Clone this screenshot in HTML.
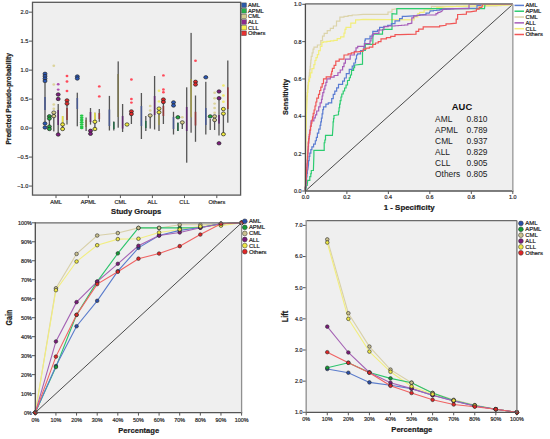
<!DOCTYPE html>
<html><head><meta charset="utf-8"><style>
html,body{margin:0;padding:0;background:#fff;width:550px;height:439px;overflow:hidden}
svg{display:block;font-family:"Liberation Sans", sans-serif}
</style></head><body>
<svg width="550" height="439" viewBox="0 0 550 439">
<rect x="0" y="0" width="550" height="439" fill="#fff"/>
<rect x="32.5" y="2.3" width="208.1" height="192.79999999999998" fill="#efefef" stroke="#585858" stroke-width="1.3"/>
<line x1="29.00" y1="12.16" x2="32.50" y2="12.16" stroke="#555" stroke-width="1.0" />
<text x="28.30" y="14.16" font-size="5.6" text-anchor="end" font-weight="normal" fill="#2a2a2a" stroke="#2a2a2a" stroke-width="0.2" >2.0</text>
<line x1="29.00" y1="41.14" x2="32.50" y2="41.14" stroke="#555" stroke-width="1.0" />
<text x="28.30" y="43.14" font-size="5.6" text-anchor="end" font-weight="normal" fill="#2a2a2a" stroke="#2a2a2a" stroke-width="0.2" >1.5</text>
<line x1="29.00" y1="70.13" x2="32.50" y2="70.13" stroke="#555" stroke-width="1.0" />
<text x="28.30" y="72.13" font-size="5.6" text-anchor="end" font-weight="normal" fill="#2a2a2a" stroke="#2a2a2a" stroke-width="0.2" >1.0</text>
<line x1="29.00" y1="99.11" x2="32.50" y2="99.11" stroke="#555" stroke-width="1.0" />
<text x="28.30" y="101.11" font-size="5.6" text-anchor="end" font-weight="normal" fill="#2a2a2a" stroke="#2a2a2a" stroke-width="0.2" >0.5</text>
<line x1="29.00" y1="128.10" x2="32.50" y2="128.10" stroke="#555" stroke-width="1.0" />
<text x="28.30" y="130.10" font-size="5.6" text-anchor="end" font-weight="normal" fill="#2a2a2a" stroke="#2a2a2a" stroke-width="0.2" >0.0</text>
<line x1="29.00" y1="157.08" x2="32.50" y2="157.08" stroke="#555" stroke-width="1.0" />
<text x="28.30" y="159.08" font-size="5.6" text-anchor="end" font-weight="normal" fill="#2a2a2a" stroke="#2a2a2a" stroke-width="0.2" >−0.5</text>
<line x1="29.00" y1="186.07" x2="32.50" y2="186.07" stroke="#555" stroke-width="1.0" />
<text x="28.30" y="188.07" font-size="5.6" text-anchor="end" font-weight="normal" fill="#2a2a2a" stroke="#2a2a2a" stroke-width="0.2" >−1.0</text>
<line x1="56.00" y1="195.10" x2="56.00" y2="198.10" stroke="#555" stroke-width="1.0" />
<text x="56.00" y="203.80" font-size="5.6" text-anchor="middle" font-weight="normal" fill="#2a2a2a" stroke="#2a2a2a" stroke-width="0.2" >AML</text>
<line x1="88.30" y1="195.10" x2="88.30" y2="198.10" stroke="#555" stroke-width="1.0" />
<text x="88.30" y="203.80" font-size="5.6" text-anchor="middle" font-weight="normal" fill="#2a2a2a" stroke="#2a2a2a" stroke-width="0.2" >APML</text>
<line x1="120.40" y1="195.10" x2="120.40" y2="198.10" stroke="#555" stroke-width="1.0" />
<text x="120.40" y="203.80" font-size="5.6" text-anchor="middle" font-weight="normal" fill="#2a2a2a" stroke="#2a2a2a" stroke-width="0.2" >CML</text>
<line x1="152.40" y1="195.10" x2="152.40" y2="198.10" stroke="#555" stroke-width="1.0" />
<text x="152.40" y="203.80" font-size="5.6" text-anchor="middle" font-weight="normal" fill="#2a2a2a" stroke="#2a2a2a" stroke-width="0.2" >ALL</text>
<line x1="184.50" y1="195.10" x2="184.50" y2="198.10" stroke="#555" stroke-width="1.0" />
<text x="184.50" y="203.80" font-size="5.6" text-anchor="middle" font-weight="normal" fill="#2a2a2a" stroke="#2a2a2a" stroke-width="0.2" >CLL</text>
<line x1="216.80" y1="195.10" x2="216.80" y2="198.10" stroke="#555" stroke-width="1.0" />
<text x="216.80" y="203.80" font-size="5.6" text-anchor="middle" font-weight="normal" fill="#2a2a2a" stroke="#2a2a2a" stroke-width="0.2" >Others</text>
<text x="136.20" y="214.40" font-size="7.6" text-anchor="middle" font-weight="bold" fill="#1a1a1a" stroke="#1a1a1a" stroke-width="0.2" >Study Groups</text>
<text x="0" y="0" font-size="7.4" font-weight="bold" fill="#222" stroke="#222" stroke-width="0.25" text-anchor="middle" textLength="91.5" lengthAdjust="spacingAndGlyphs" transform="translate(11.4,98.8) rotate(-90)">Predicted Pseudo-probability</text>
<rect x="241.6" y="2.90" width="4.8" height="4.6" fill="#2c5aa8" stroke="#333" stroke-width="0.4"/>
<text x="248.00" y="7.10" font-size="5.8" text-anchor="start" font-weight="normal" fill="#1a1a1a" stroke="#1a1a1a" stroke-width="0.2" >AML</text>
<rect x="241.6" y="8.52" width="4.8" height="4.6" fill="#28b04c" stroke="#333" stroke-width="0.4"/>
<text x="248.00" y="12.72" font-size="5.8" text-anchor="start" font-weight="normal" fill="#1a1a1a" stroke="#1a1a1a" stroke-width="0.2" >APML</text>
<rect x="241.6" y="14.14" width="4.8" height="4.6" fill="#d2cb8e" stroke="#333" stroke-width="0.4"/>
<text x="248.00" y="18.34" font-size="5.8" text-anchor="start" font-weight="normal" fill="#1a1a1a" stroke="#1a1a1a" stroke-width="0.2" >CML</text>
<rect x="241.6" y="19.76" width="4.8" height="4.6" fill="#8c2a8c" stroke="#333" stroke-width="0.4"/>
<text x="248.00" y="23.96" font-size="5.8" text-anchor="start" font-weight="normal" fill="#1a1a1a" stroke="#1a1a1a" stroke-width="0.2" >ALL</text>
<rect x="241.6" y="25.38" width="4.8" height="4.6" fill="#f6ef4e" stroke="#333" stroke-width="0.4"/>
<text x="248.00" y="29.58" font-size="5.8" text-anchor="start" font-weight="normal" fill="#1a1a1a" stroke="#1a1a1a" stroke-width="0.2" >CLL</text>
<rect x="241.6" y="31.00" width="4.8" height="4.6" fill="#e83232" stroke="#333" stroke-width="0.4"/>
<text x="248.00" y="35.20" font-size="5.8" text-anchor="start" font-weight="normal" fill="#1a1a1a" stroke="#1a1a1a" stroke-width="0.2" >Others</text>
<rect x="44.35" y="83.00" width="1.3" height="38.80" fill="#555555"/>
<rect x="44.20" y="97.00" width="1.6" height="13.00" fill="#4a5a90"/>
<ellipse cx="45.00" cy="73.80" rx="2.0" ry="1.7" fill="#2a58b8" stroke="#222" stroke-width="0.7"/>
<ellipse cx="45.00" cy="76.20" rx="2.0" ry="1.7" fill="#2a58b8" stroke="#222" stroke-width="0.7"/>
<ellipse cx="45.00" cy="78.60" rx="2.0" ry="1.7" fill="#2a58b8" stroke="#222" stroke-width="0.7"/>
<ellipse cx="45.00" cy="81.00" rx="2.0" ry="1.7" fill="#2a58b8" stroke="#222" stroke-width="0.7"/>
<ellipse cx="45.00" cy="123.50" rx="2.0" ry="1.7" fill="#2a58b8" stroke="#222" stroke-width="0.7"/>
<ellipse cx="45.00" cy="127.50" rx="2.0" ry="1.7" fill="#2a58b8" stroke="#222" stroke-width="0.7"/>
<rect x="48.75" y="117.00" width="1.3" height="11.00" fill="#555555"/>
<ellipse cx="49.40" cy="116.30" rx="2.0" ry="1.7" fill="#20a840" stroke="#222" stroke-width="0.7"/>
<ellipse cx="49.40" cy="118.60" rx="2.0" ry="1.7" fill="#20a840" stroke="#222" stroke-width="0.7"/>
<ellipse cx="49.40" cy="126.60" rx="2.0" ry="1.7" fill="#20a840" stroke="#222" stroke-width="0.7"/>
<ellipse cx="49.40" cy="129.00" rx="2.0" ry="1.7" fill="#20a840" stroke="#222" stroke-width="0.7"/>
<rect x="53.15" y="114.00" width="1.3" height="17.40" fill="#555555"/>
<ellipse cx="53.80" cy="65.80" rx="1.4" ry="1.2" fill="#dcd49c"/>
<ellipse cx="53.80" cy="84.50" rx="1.4" ry="1.2" fill="#dcd49c"/>
<ellipse cx="53.80" cy="104.50" rx="1.4" ry="1.2" fill="#dcd49c"/>
<ellipse cx="53.80" cy="108.70" rx="1.4" ry="1.2" fill="#dcd49c"/>
<ellipse cx="53.80" cy="112.60" rx="2.0" ry="1.7" fill="#d6cc8a" stroke="#222" stroke-width="0.7"/>
<ellipse cx="53.80" cy="116.10" rx="2.0" ry="1.7" fill="#d6cc8a" stroke="#222" stroke-width="0.7"/>
<rect x="57.55" y="104.00" width="1.3" height="30.00" fill="#555555"/>
<rect x="57.40" y="110.00" width="1.6" height="15.00" fill="#5e2a6e"/>
<ellipse cx="58.20" cy="84.20" rx="1.4" ry="1.2" fill="#b050b0"/>
<ellipse cx="58.20" cy="89.60" rx="1.4" ry="1.2" fill="#b050b0"/>
<ellipse cx="58.20" cy="94.50" rx="2.0" ry="1.7" fill="#801e80" stroke="#222" stroke-width="0.7"/>
<ellipse cx="58.20" cy="99.00" rx="2.0" ry="1.7" fill="#801e80" stroke="#222" stroke-width="0.7"/>
<ellipse cx="58.20" cy="134.50" rx="2.0" ry="1.7" fill="#801e80" stroke="#222" stroke-width="0.7"/>
<rect x="61.95" y="116.00" width="1.3" height="14.00" fill="#555555"/>
<rect x="61.80" y="116.00" width="1.6" height="7.60" fill="#e8e040"/>
<ellipse cx="62.60" cy="124.50" rx="2.0" ry="1.7" fill="#f2ec40" stroke="#222" stroke-width="0.7"/>
<ellipse cx="62.60" cy="129.00" rx="2.0" ry="1.7" fill="#f2ec40" stroke="#222" stroke-width="0.7"/>
<rect x="66.35" y="103.00" width="1.3" height="21.50" fill="#555555"/>
<rect x="66.20" y="108.00" width="1.6" height="12.00" fill="#8e3a3a"/>
<ellipse cx="67.00" cy="76.00" rx="1.4" ry="1.2" fill="#ff4a5a"/>
<ellipse cx="67.00" cy="81.50" rx="1.4" ry="1.2" fill="#ff4a5a"/>
<ellipse cx="67.00" cy="91.00" rx="1.4" ry="1.2" fill="#ff4a5a"/>
<ellipse cx="67.00" cy="100.40" rx="2.0" ry="1.7" fill="#e42828" stroke="#222" stroke-width="0.7"/>
<ellipse cx="67.00" cy="103.60" rx="2.0" ry="1.7" fill="#e42828" stroke="#222" stroke-width="0.7"/>
<rect x="76.65" y="92.70" width="1.3" height="33.60" fill="#555555"/>
<rect x="76.50" y="98.00" width="1.6" height="11.00" fill="#4a5a90"/>
<ellipse cx="77.30" cy="76.50" rx="2.0" ry="1.7" fill="#2a58b8" stroke="#222" stroke-width="0.7"/>
<ellipse cx="77.30" cy="78.50" rx="2.0" ry="1.7" fill="#2a58b8" stroke="#222" stroke-width="0.7"/>
<ellipse cx="81.70" cy="115.60" rx="1.8" ry="1.2" fill="#22c845"/>
<ellipse cx="81.70" cy="117.80" rx="1.8" ry="1.2" fill="#22c845"/>
<ellipse cx="81.70" cy="120.00" rx="1.8" ry="1.2" fill="#22c845"/>
<ellipse cx="81.70" cy="122.20" rx="1.8" ry="1.2" fill="#22c845"/>
<ellipse cx="81.70" cy="124.40" rx="1.8" ry="1.2" fill="#22c845"/>
<ellipse cx="81.70" cy="126.60" rx="1.8" ry="1.2" fill="#22c845"/>
<ellipse cx="81.70" cy="128.00" rx="1.8" ry="1.2" fill="#22c845"/>
<rect x="85.45" y="117.50" width="1.3" height="13.50" fill="#555555"/>
<rect x="85.30" y="120.00" width="1.6" height="7.00" fill="#7a7450"/>
<rect x="89.85" y="108.00" width="1.3" height="16.60" fill="#555555"/>
<rect x="89.70" y="112.00" width="1.6" height="10.00" fill="#5e2a6e"/>
<ellipse cx="90.50" cy="130.80" rx="2.0" ry="1.7" fill="#801e80" stroke="#222" stroke-width="0.7"/>
<ellipse cx="90.50" cy="133.80" rx="2.0" ry="1.7" fill="#801e80" stroke="#222" stroke-width="0.7"/>
<rect x="94.25" y="112.70" width="1.3" height="16.30" fill="#555555"/>
<rect x="94.10" y="112.70" width="1.6" height="9.10" fill="#e8e040"/>
<ellipse cx="94.90" cy="121.80" rx="2.0" ry="1.7" fill="#f2ec40" stroke="#222" stroke-width="0.7"/>
<ellipse cx="94.90" cy="129.00" rx="2.0" ry="1.7" fill="#f2ec40" stroke="#222" stroke-width="0.7"/>
<rect x="98.65" y="109.00" width="1.3" height="12.80" fill="#555555"/>
<rect x="98.50" y="113.00" width="1.6" height="6.00" fill="#8e3a3a"/>
<ellipse cx="99.30" cy="86.40" rx="1.4" ry="1.2" fill="#ff4a5a"/>
<ellipse cx="99.30" cy="96.40" rx="1.4" ry="1.2" fill="#ff4a5a"/>
<rect x="108.75" y="95.90" width="1.3" height="34.60" fill="#555555"/>
<rect x="108.60" y="109.50" width="1.6" height="16.50" fill="#4a5a90"/>
<rect x="113.15" y="121.40" width="1.3" height="9.10" fill="#555555"/>
<rect x="113.00" y="122.00" width="1.6" height="7.00" fill="#2a6a4a"/>
<rect x="117.55" y="61.40" width="1.3" height="66.30" fill="#555555"/>
<rect x="117.40" y="74.00" width="1.6" height="43.00" fill="#7a7450"/>
<rect x="121.95" y="104.00" width="1.3" height="28.00" fill="#555555"/>
<rect x="121.80" y="116.00" width="1.6" height="12.60" fill="#5e2a6e"/>
<ellipse cx="127.00" cy="124.50" rx="2.0" ry="1.7" fill="#f2ec40" stroke="#222" stroke-width="0.7"/>
<rect x="130.75" y="114.00" width="1.3" height="10.00" fill="#555555"/>
<ellipse cx="131.40" cy="79.50" rx="1.4" ry="1.2" fill="#ff4a5a"/>
<ellipse cx="131.40" cy="99.00" rx="1.4" ry="1.2" fill="#ff4a5a"/>
<ellipse cx="131.40" cy="102.60" rx="1.4" ry="1.2" fill="#ff4a5a"/>
<ellipse cx="131.40" cy="111.40" rx="2.0" ry="1.7" fill="#e42828" stroke="#222" stroke-width="0.7"/>
<ellipse cx="131.40" cy="114.00" rx="2.0" ry="1.7" fill="#e42828" stroke="#222" stroke-width="0.7"/>
<rect x="140.75" y="93.00" width="1.3" height="46.00" fill="#555555"/>
<rect x="140.60" y="106.00" width="1.6" height="20.00" fill="#4a5a90"/>
<rect x="145.15" y="116.00" width="1.3" height="15.00" fill="#555555"/>
<rect x="145.00" y="121.00" width="1.6" height="7.00" fill="#2a6a4a"/>
<rect x="149.55" y="115.50" width="1.3" height="13.10" fill="#555555"/>
<ellipse cx="150.20" cy="106.00" rx="1.4" ry="1.2" fill="#dcd49c"/>
<ellipse cx="150.20" cy="110.50" rx="1.4" ry="1.2" fill="#dcd49c"/>
<ellipse cx="150.20" cy="115.50" rx="2.0" ry="1.7" fill="#d6cc8a" stroke="#222" stroke-width="0.7"/>
<rect x="153.95" y="76.00" width="1.3" height="53.50" fill="#555555"/>
<rect x="153.80" y="96.00" width="1.6" height="19.00" fill="#5e2a6e"/>
<rect x="158.35" y="112.00" width="1.3" height="19.00" fill="#555555"/>
<rect x="158.20" y="115.00" width="1.6" height="10.00" fill="#a09a50"/>
<ellipse cx="159.00" cy="90.80" rx="1.4" ry="1.2" fill="#f0ea70"/>
<ellipse cx="159.00" cy="101.40" rx="1.4" ry="1.2" fill="#f0ea70"/>
<ellipse cx="159.00" cy="108.60" rx="2.0" ry="1.7" fill="#f2ec40" stroke="#222" stroke-width="0.7"/>
<ellipse cx="159.00" cy="112.30" rx="2.0" ry="1.7" fill="#f2ec40" stroke="#222" stroke-width="0.7"/>
<rect x="162.75" y="102.00" width="1.3" height="22.00" fill="#555555"/>
<rect x="162.60" y="106.00" width="1.6" height="10.00" fill="#8e3a3a"/>
<ellipse cx="163.40" cy="75.40" rx="1.4" ry="1.2" fill="#ff4a5a"/>
<ellipse cx="163.40" cy="89.50" rx="1.4" ry="1.2" fill="#ff4a5a"/>
<ellipse cx="163.40" cy="92.30" rx="1.4" ry="1.2" fill="#ff4a5a"/>
<ellipse cx="163.40" cy="99.50" rx="2.0" ry="1.7" fill="#e42828" stroke="#222" stroke-width="0.7"/>
<ellipse cx="163.40" cy="102.00" rx="2.0" ry="1.7" fill="#e42828" stroke="#222" stroke-width="0.7"/>
<rect x="172.85" y="111.80" width="1.3" height="22.70" fill="#555555"/>
<rect x="172.70" y="117.00" width="1.6" height="12.00" fill="#4a5a90"/>
<ellipse cx="173.50" cy="102.40" rx="2.0" ry="1.7" fill="#2a58b8" stroke="#222" stroke-width="0.7"/>
<ellipse cx="173.50" cy="105.50" rx="2.0" ry="1.7" fill="#2a58b8" stroke="#222" stroke-width="0.7"/>
<rect x="177.25" y="122.70" width="1.3" height="8.30" fill="#555555"/>
<rect x="177.10" y="122.70" width="1.6" height="8.30" fill="#2a6a4a"/>
<ellipse cx="177.90" cy="117.30" rx="2.0" ry="1.7" fill="#20a840" stroke="#222" stroke-width="0.7"/>
<rect x="181.65" y="122.40" width="1.3" height="6.60" fill="#555555"/>
<ellipse cx="182.30" cy="117.30" rx="1.4" ry="1.2" fill="#dcd49c"/>
<ellipse cx="182.30" cy="122.40" rx="2.0" ry="1.7" fill="#d6cc8a" stroke="#222" stroke-width="0.7"/>
<rect x="186.05" y="87.30" width="1.3" height="75.40" fill="#555555"/>
<rect x="185.90" y="107.00" width="1.6" height="24.00" fill="#5e2a6e"/>
<rect x="190.45" y="32.90" width="1.3" height="99.80" fill="#555555"/>
<rect x="190.30" y="79.00" width="1.6" height="38.30" fill="#a09a50"/>
<rect x="194.85" y="95.50" width="1.3" height="46.30" fill="#555555"/>
<rect x="194.70" y="111.80" width="1.6" height="13.70" fill="#8e3a3a"/>
<ellipse cx="195.50" cy="60.70" rx="1.4" ry="1.2" fill="#ff4a5a"/>
<ellipse cx="195.50" cy="81.80" rx="2.0" ry="1.7" fill="#e42828" stroke="#222" stroke-width="0.7"/>
<ellipse cx="195.50" cy="84.50" rx="2.0" ry="1.7" fill="#e42828" stroke="#222" stroke-width="0.7"/>
<rect x="205.15" y="81.80" width="1.3" height="52.70" fill="#555555"/>
<rect x="205.00" y="108.00" width="1.6" height="17.00" fill="#4a5a90"/>
<ellipse cx="205.80" cy="77.30" rx="2.0" ry="1.7" fill="#2a58b8" stroke="#222" stroke-width="0.7"/>
<rect x="209.55" y="119.00" width="1.3" height="11.00" fill="#555555"/>
<ellipse cx="210.20" cy="116.40" rx="2.0" ry="1.7" fill="#20a840" stroke="#222" stroke-width="0.7"/>
<rect x="213.95" y="120.00" width="1.3" height="10.00" fill="#555555"/>
<ellipse cx="214.60" cy="92.70" rx="1.4" ry="1.2" fill="#dcd49c"/>
<ellipse cx="214.60" cy="98.20" rx="1.4" ry="1.2" fill="#dcd49c"/>
<ellipse cx="214.60" cy="103.60" rx="1.4" ry="1.2" fill="#dcd49c"/>
<ellipse cx="214.60" cy="108.00" rx="1.4" ry="1.2" fill="#dcd49c"/>
<ellipse cx="214.60" cy="112.70" rx="1.4" ry="1.2" fill="#dcd49c"/>
<ellipse cx="214.60" cy="116.40" rx="2.0" ry="1.7" fill="#d6cc8a" stroke="#222" stroke-width="0.7"/>
<ellipse cx="214.60" cy="120.00" rx="2.0" ry="1.7" fill="#d6cc8a" stroke="#222" stroke-width="0.7"/>
<rect x="218.35" y="100.00" width="1.3" height="35.50" fill="#555555"/>
<rect x="218.20" y="115.00" width="1.6" height="8.60" fill="#5e2a6e"/>
<ellipse cx="219.00" cy="91.50" rx="2.0" ry="1.7" fill="#801e80" stroke="#222" stroke-width="0.7"/>
<ellipse cx="219.00" cy="98.20" rx="2.0" ry="1.7" fill="#801e80" stroke="#222" stroke-width="0.7"/>
<ellipse cx="219.00" cy="143.30" rx="2.0" ry="1.7" fill="#801e80" stroke="#222" stroke-width="0.7"/>
<rect x="222.75" y="113.60" width="1.3" height="20.00" fill="#555555"/>
<ellipse cx="223.40" cy="85.50" rx="1.4" ry="1.2" fill="#f0ea70"/>
<ellipse cx="223.40" cy="95.50" rx="1.4" ry="1.2" fill="#f0ea70"/>
<ellipse cx="223.40" cy="101.80" rx="1.4" ry="1.2" fill="#f0ea70"/>
<ellipse cx="223.40" cy="109.00" rx="2.0" ry="1.7" fill="#f2ec40" stroke="#222" stroke-width="0.7"/>
<ellipse cx="223.40" cy="113.60" rx="2.0" ry="1.7" fill="#f2ec40" stroke="#222" stroke-width="0.7"/>
<ellipse cx="223.40" cy="134.20" rx="2.0" ry="1.7" fill="#f2ec40" stroke="#222" stroke-width="0.7"/>
<rect x="227.15" y="60.50" width="1.3" height="62.20" fill="#555555"/>
<rect x="227.00" y="87.30" width="1.6" height="21.70" fill="#8e3a3a"/>
<rect x="305.4" y="4.3" width="207.39999999999998" height="186.7" fill="#efefef"/>
<line x1="302.20" y1="191.00" x2="305.40" y2="191.00" stroke="#555" stroke-width="1.0" />
<text x="301.60" y="192.90" font-size="5.4" text-anchor="end" font-weight="normal" fill="#2a2a2a" stroke="#2a2a2a" stroke-width="0.2" >0.0</text>
<line x1="305.40" y1="191.00" x2="305.40" y2="194.00" stroke="#555" stroke-width="1.0" />
<text x="305.40" y="199.20" font-size="5.4" text-anchor="middle" font-weight="normal" fill="#2a2a2a" stroke="#2a2a2a" stroke-width="0.2" >0.0</text>
<line x1="302.20" y1="153.66" x2="305.40" y2="153.66" stroke="#555" stroke-width="1.0" />
<text x="301.60" y="155.56" font-size="5.4" text-anchor="end" font-weight="normal" fill="#2a2a2a" stroke="#2a2a2a" stroke-width="0.2" >0.2</text>
<line x1="346.88" y1="191.00" x2="346.88" y2="194.00" stroke="#555" stroke-width="1.0" />
<text x="346.88" y="199.20" font-size="5.4" text-anchor="middle" font-weight="normal" fill="#2a2a2a" stroke="#2a2a2a" stroke-width="0.2" >0.2</text>
<line x1="302.20" y1="116.32" x2="305.40" y2="116.32" stroke="#555" stroke-width="1.0" />
<text x="301.60" y="118.22" font-size="5.4" text-anchor="end" font-weight="normal" fill="#2a2a2a" stroke="#2a2a2a" stroke-width="0.2" >0.4</text>
<line x1="388.36" y1="191.00" x2="388.36" y2="194.00" stroke="#555" stroke-width="1.0" />
<text x="388.36" y="199.20" font-size="5.4" text-anchor="middle" font-weight="normal" fill="#2a2a2a" stroke="#2a2a2a" stroke-width="0.2" >0.4</text>
<line x1="302.20" y1="78.98" x2="305.40" y2="78.98" stroke="#555" stroke-width="1.0" />
<text x="301.60" y="80.88" font-size="5.4" text-anchor="end" font-weight="normal" fill="#2a2a2a" stroke="#2a2a2a" stroke-width="0.2" >0.6</text>
<line x1="429.84" y1="191.00" x2="429.84" y2="194.00" stroke="#555" stroke-width="1.0" />
<text x="429.84" y="199.20" font-size="5.4" text-anchor="middle" font-weight="normal" fill="#2a2a2a" stroke="#2a2a2a" stroke-width="0.2" >0.6</text>
<line x1="302.20" y1="41.64" x2="305.40" y2="41.64" stroke="#555" stroke-width="1.0" />
<text x="301.60" y="43.54" font-size="5.4" text-anchor="end" font-weight="normal" fill="#2a2a2a" stroke="#2a2a2a" stroke-width="0.2" >0.8</text>
<line x1="471.32" y1="191.00" x2="471.32" y2="194.00" stroke="#555" stroke-width="1.0" />
<text x="471.32" y="199.20" font-size="5.4" text-anchor="middle" font-weight="normal" fill="#2a2a2a" stroke="#2a2a2a" stroke-width="0.2" >0.8</text>
<line x1="302.20" y1="4.30" x2="305.40" y2="4.30" stroke="#555" stroke-width="1.0" />
<text x="301.60" y="6.20" font-size="5.4" text-anchor="end" font-weight="normal" fill="#2a2a2a" stroke="#2a2a2a" stroke-width="0.2" >1.0</text>
<line x1="512.80" y1="191.00" x2="512.80" y2="194.00" stroke="#555" stroke-width="1.0" />
<text x="512.80" y="199.20" font-size="5.4" text-anchor="middle" font-weight="normal" fill="#2a2a2a" stroke="#2a2a2a" stroke-width="0.2" >1.0</text>
<text x="409.20" y="210.20" font-size="7.4" text-anchor="middle" font-weight="bold" fill="#1a1a1a" stroke="#1a1a1a" stroke-width="0.2" textLength="51" lengthAdjust="spacingAndGlyphs">1 - Specificity</text>
<text x="0" y="0" font-size="7.2" font-weight="bold" fill="#1a1a1a" stroke="#1a1a1a" stroke-width="0.2" text-anchor="middle" transform="translate(287.5,97.0) rotate(-90)">Sensitivity</text>
<line x1="305.40" y1="191.00" x2="512.80" y2="4.30" stroke="#4a4a4a" stroke-width="1.0" />
<polyline points="305.40,190.80 305.60,150.00 306.40,102.80 306.40,99.40 306.75,99.40 306.75,96.00 307.10,96.00 307.10,92.60 307.45,92.60 307.45,89.20 307.80,89.20 307.80,85.92 308.20,85.92 308.20,82.64 308.60,82.64 308.60,79.36 309.00,79.36 309.00,76.08 309.40,76.08 309.40,72.80 309.80,72.80 309.80,69.60 310.15,69.60 310.15,66.40 310.50,66.40 310.50,63.20 310.85,63.20 310.85,60.00 311.20,60.00 311.20,56.40 312.13,56.40 312.13,52.80 313.07,52.80 313.07,49.20 314.00,49.20 314.00,47.10 317.40,47.10 317.40,45.00 320.80,45.00 320.80,40.60 322.50,40.60 322.50,36.20 324.20,36.20 324.20,33.45 327.25,33.45 327.25,30.70 330.30,30.70 330.30,28.35 333.40,28.35 333.40,26.00 336.50,26.00 336.50,21.20 339.90,21.20 339.90,17.10 344.00,17.10 344.00,16.40 348.10,16.40 348.10,15.70 352.20,15.70 352.20,15.00 356.30,15.00 363.00,14.30 388.00,14.30 388.00,12.00 392.00,12.00 392.00,9.30 393.50,9.30 396.80,8.60 431.40,8.60 431.40,6.40 497.00,6.00 497.00,5.58 500.95,5.58 500.95,5.15 504.90,5.15 504.90,4.72 508.85,4.72 508.85,4.30 512.80,4.30" fill="none" stroke="#dcd4aa" stroke-width="1.2" stroke-linejoin="miter" />
<polyline points="305.40,190.80 305.70,150.00 306.40,115.00 307.10,100.00 307.10,96.25 307.45,96.25 307.45,92.50 307.80,92.50 307.80,88.75 308.15,88.75 308.15,85.00 308.50,85.00 308.50,81.30 309.50,81.30 309.50,77.60 310.50,77.60 310.50,72.80 311.90,72.80 311.90,68.70 313.90,68.70 313.90,64.60 314.95,64.60 314.95,60.50 316.00,60.50 316.00,57.60 317.35,57.60 317.35,54.70 318.70,54.70 318.70,50.60 320.30,50.60 320.30,46.50 321.90,46.50 321.90,42.40 323.50,42.40 323.50,41.88 326.93,41.88 326.93,41.35 330.35,41.35 330.35,40.82 333.77,40.82 333.77,40.30 337.20,40.30 337.20,38.60 340.60,38.60 340.60,36.90 344.00,36.90 344.00,33.15 345.00,33.15 345.00,29.40 346.00,29.40 346.00,27.30 350.80,27.30 350.80,23.20 355.60,23.20 355.60,19.80 359.00,19.80 363.00,19.30 414.10,19.80 414.10,16.80 417.80,16.80 417.80,13.70 419.60,13.70 419.60,12.30 424.10,12.30 424.10,10.00 426.00,10.00 430.50,9.60 430.50,8.97 433.67,8.97 433.67,8.33 436.83,8.33 436.83,7.70 440.00,7.70 445.50,6.80 445.50,6.70 449.16,6.70 449.16,6.60 452.82,6.60 452.82,6.50 456.48,6.50 456.48,6.40 460.14,6.40 460.14,6.30 463.81,6.30 463.81,6.20 467.47,6.20 467.47,6.10 471.13,6.10 471.13,6.00 474.79,6.00 474.79,5.90 478.45,5.90 478.45,5.80 482.11,5.80 482.11,5.70 485.77,5.70 485.77,5.60 489.43,5.60 489.43,5.50 493.09,5.50 493.09,5.40 496.76,5.40 496.76,5.30 500.42,5.30 500.42,5.20 504.08,5.20 504.08,5.10 507.74,5.10 507.74,5.00 511.40,5.00 512.80,4.30" fill="none" stroke="#f2ee7a" stroke-width="1.2" stroke-linejoin="miter" />
<polyline points="305.40,190.80 305.40,188.10 306.30,188.10 306.30,185.40 307.20,185.40 307.70,180.30 309.80,180.30 309.80,176.70 310.80,176.70 310.80,173.60 311.30,173.60 311.30,170.50 311.80,170.50 313.40,170.50 313.90,155.10 313.90,150.30 315.30,150.30 324.20,150.30 324.20,145.50 324.20,142.75 324.85,142.75 324.85,140.00 325.50,140.00 325.50,135.30 326.90,135.30 332.40,135.30 333.10,125.00 333.10,121.83 333.53,121.83 333.53,118.67 333.97,118.67 333.97,115.50 334.40,115.50 338.50,114.80 338.50,111.27 339.07,111.27 339.07,107.73 339.63,107.73 339.63,104.20 340.20,104.20 340.20,100.60 341.00,100.60 341.00,97.00 341.80,97.00 341.80,94.00 343.20,94.00 343.20,91.00 344.60,91.00 344.60,88.00 346.05,88.00 346.05,85.00 347.50,85.00 347.50,80.50 349.30,80.50 349.30,77.75 350.40,77.75 350.40,75.00 351.50,75.00 351.50,70.50 353.60,70.50 353.60,67.75 354.60,67.75 354.60,65.00 355.60,65.00 362.50,64.20 362.50,54.60 362.50,50.50 365.30,50.50 365.30,44.40 372.80,44.40 373.00,34.20 382.50,34.20 382.50,29.40 392.00,29.40 392.00,13.70 396.80,14.10 396.80,8.60 484.50,8.60 485.00,4.30 512.80,4.30" fill="none" stroke="#2ccc70" stroke-width="1.2" stroke-linejoin="miter" />
<polyline points="305.40,190.80 305.40,187.33 305.80,187.33 305.80,183.87 306.20,183.87 306.20,180.40 306.60,180.40 306.60,176.93 307.00,176.93 307.00,173.47 307.40,173.47 307.40,170.00 307.80,170.00 308.50,164.70 308.50,160.60 309.15,160.60 309.15,156.50 309.80,156.50 309.80,153.05 310.85,153.05 310.85,149.60 311.90,149.60 311.90,146.90 313.60,146.90 313.60,144.20 315.30,144.20 315.30,140.75 316.35,140.75 316.35,137.30 317.40,137.30 317.40,133.20 318.75,133.20 318.75,129.10 320.10,129.10 320.10,125.47 320.77,125.47 320.77,121.83 321.43,121.83 321.43,118.20 322.10,118.20 322.10,113.95 322.80,113.95 322.80,109.70 323.50,109.70 323.50,106.95 325.90,106.95 325.90,104.20 328.30,104.20 328.30,102.80 331.70,102.80 331.70,98.60 333.25,98.60 333.25,94.40 334.80,94.40 334.80,91.10 336.65,91.10 336.65,87.80 338.50,87.80 338.50,84.30 342.60,84.30 342.60,81.15 344.45,81.15 344.45,78.00 346.30,78.00 346.30,73.70 349.25,73.70 349.25,69.40 352.20,69.40 352.20,66.20 353.85,66.20 353.85,63.00 355.50,63.00 355.50,59.00 356.50,59.00 356.50,55.00 357.50,55.00 357.50,53.90 360.50,53.90 360.50,50.50 363.90,50.50 363.90,47.10 364.37,47.10 364.37,43.70 364.83,43.70 364.83,40.30 365.30,40.30 365.30,38.90 370.00,38.90 370.00,36.10 372.80,36.10 372.80,31.40 377.50,31.40 377.50,30.00 379.60,30.00 379.60,27.30 384.00,27.30 384.00,26.30 387.70,26.30 387.70,25.30 391.40,25.30 391.40,23.70 395.00,23.70 395.00,20.90 399.60,20.90 399.60,18.70 402.30,18.70 402.30,16.40 405.50,16.40 416.90,15.70 416.90,15.33 419.93,15.33 419.93,14.97 422.97,14.97 422.97,14.60 426.00,14.60 426.00,13.20 429.20,13.20 430.10,11.40 430.10,10.95 433.38,10.95 433.38,10.50 436.65,10.50 436.65,10.05 439.93,10.05 439.93,9.60 443.20,9.60 443.20,9.35 446.65,9.35 446.65,9.10 450.10,9.10 450.10,8.85 453.55,8.85 453.55,8.60 457.00,8.60 477.00,8.20 477.00,5.50 480.90,5.50 481.00,4.30 512.80,4.30" fill="none" stroke="#5a7cd2" stroke-width="1.2" stroke-linejoin="miter" />
<polyline points="305.40,190.80 305.40,186.85 305.67,186.85 305.67,182.90 305.95,182.90 305.95,178.95 306.23,178.95 306.23,175.00 306.50,175.00 306.50,171.25 306.75,171.25 306.75,167.50 307.00,167.50 307.00,163.75 307.25,163.75 307.25,160.00 307.50,160.00 307.50,156.67 307.75,156.67 307.75,153.33 308.00,153.33 308.00,150.00 308.25,150.00 308.25,146.67 308.50,146.67 308.50,143.33 308.75,143.33 308.75,140.00 309.00,140.00 309.00,136.50 309.50,136.50 309.50,133.00 310.00,133.00 310.00,129.50 310.50,129.50 310.50,126.00 311.00,126.00 311.00,120.90 313.90,120.90 313.90,117.85 315.30,117.85 315.30,114.80 316.70,114.80 316.70,111.00 318.70,111.00 318.70,106.90 320.10,106.90 320.10,102.80 321.50,102.80 321.50,99.40 322.15,99.40 322.15,96.00 322.80,96.00 322.80,92.60 323.85,92.60 323.85,89.20 324.90,89.20 324.90,85.75 325.90,85.75 325.90,82.30 326.90,82.30 326.90,78.90 330.30,78.90 330.30,77.20 334.10,77.20 334.10,75.50 337.90,75.50 337.90,72.75 340.25,72.75 340.25,70.00 342.60,70.00 342.60,66.60 344.00,66.60 344.00,63.20 345.40,63.20 345.40,59.10 350.20,59.10 350.20,55.00 354.30,55.00 354.30,51.40 356.00,51.40 356.00,47.80 357.70,47.80 357.70,46.40 360.50,46.40 364.60,46.40 364.60,43.70 370.00,43.70 370.00,40.95 371.05,40.95 371.05,38.20 372.10,38.20 372.10,34.80 373.50,34.80 373.50,33.40 378.90,33.40 378.90,30.00 383.70,30.00 384.00,27.30 384.00,26.65 388.05,26.65 388.05,26.00 392.10,26.00 395.00,26.00 395.00,25.75 398.20,25.75 398.20,25.50 401.40,25.50 401.40,25.25 404.60,25.25 404.60,25.00 407.80,25.00 407.80,23.70 409.60,23.70 411.80,23.20 411.80,17.80 413.70,17.80 413.70,15.90 416.40,15.90 419.60,15.00 436.00,15.00 436.00,13.70 437.80,13.70 437.80,12.30 439.60,12.30 441.90,11.40 442.70,9.10 457.30,8.60 469.00,8.60 469.00,4.50 471.40,4.50 512.80,4.30" fill="none" stroke="#a65cb8" stroke-width="1.2" stroke-linejoin="miter" />
<polyline points="305.40,190.80 305.40,187.33 305.63,187.33 305.63,183.87 305.87,183.87 305.87,180.40 306.10,180.40 306.10,176.93 306.33,176.93 306.33,173.47 306.57,173.47 306.57,170.00 306.80,170.00 307.40,161.90 308.20,145.50 308.20,142.10 308.70,142.10 308.70,138.70 309.20,138.70 309.20,134.60 309.87,134.60 309.87,130.50 310.53,130.50 310.53,126.40 311.20,126.40 311.20,123.20 311.87,123.20 311.87,120.00 312.53,120.00 312.53,116.80 313.20,116.80 313.20,113.40 314.10,113.40 314.10,110.00 315.00,110.00 315.00,106.00 315.90,106.00 315.90,102.00 316.80,102.00 316.80,98.20 318.50,98.20 318.50,94.35 319.65,94.35 319.65,90.50 320.80,90.50 320.80,87.10 322.15,87.10 322.15,83.70 323.50,83.70 323.50,78.90 326.20,78.90 326.20,76.90 331.00,76.90 331.00,74.15 331.70,74.15 331.70,71.40 332.40,71.40 332.40,68.35 334.10,68.35 334.10,65.30 335.80,65.30 335.80,61.20 339.20,61.20 339.20,59.10 344.00,59.10 344.00,55.00 348.10,55.00 348.10,53.97 351.30,53.97 351.30,52.93 354.50,52.93 354.50,51.90 357.70,51.90 363.20,51.20 363.20,49.10 365.90,49.10 365.90,48.10 369.35,48.10 369.35,47.10 372.80,47.10 372.80,44.40 375.50,44.40 375.50,43.00 378.25,43.00 378.25,41.60 381.00,41.60 381.00,38.90 386.40,38.90 386.40,37.65 390.70,37.65 390.70,36.40 395.00,36.40 395.00,34.60 400.00,34.60 416.00,34.10 416.00,31.40 418.70,31.40 418.70,29.10 423.20,29.10 423.20,26.90 425.50,26.90 439.60,26.90 439.60,25.80 441.00,25.80 446.00,25.30 446.00,23.90 449.40,23.90 456.20,23.20 456.20,19.10 457.60,19.10 457.60,14.50 460.00,14.50 466.40,14.10 466.40,11.80 470.00,11.80 476.40,10.90 476.40,9.10 479.10,9.10 479.10,7.30 481.80,7.30 482.70,4.50 512.80,4.30" fill="none" stroke="#f05656" stroke-width="1.2" stroke-linejoin="miter" />
<line x1="305.40" y1="3.90" x2="512.80" y2="3.90" stroke="#8a8a8a" stroke-width="1.8" />
<line x1="305.40" y1="3.70" x2="305.40" y2="191.00" stroke="#4a4a4a" stroke-width="1.3" />
<line x1="305.40" y1="191.00" x2="513.40" y2="191.00" stroke="#555" stroke-width="1.3" />
<line x1="512.80" y1="4.30" x2="512.80" y2="191.00" stroke="#a8a8a8" stroke-width="1.6" />
<line x1="514.50" y1="5.40" x2="524.00" y2="5.40" stroke="#5a7cd2" stroke-width="1.5" />
<text x="525.50" y="7.30" font-size="5.8" text-anchor="start" font-weight="normal" fill="#1a1a1a" stroke="#1a1a1a" stroke-width="0.2" >AML</text>
<line x1="514.50" y1="11.22" x2="524.00" y2="11.22" stroke="#2ccc70" stroke-width="1.5" />
<text x="525.50" y="13.12" font-size="5.8" text-anchor="start" font-weight="normal" fill="#1a1a1a" stroke="#1a1a1a" stroke-width="0.2" >APML</text>
<line x1="514.50" y1="17.04" x2="524.00" y2="17.04" stroke="#dcd4aa" stroke-width="1.5" />
<text x="525.50" y="18.94" font-size="5.8" text-anchor="start" font-weight="normal" fill="#1a1a1a" stroke="#1a1a1a" stroke-width="0.2" >CML</text>
<line x1="514.50" y1="22.86" x2="524.00" y2="22.86" stroke="#a65cb8" stroke-width="1.5" />
<text x="525.50" y="24.76" font-size="5.8" text-anchor="start" font-weight="normal" fill="#1a1a1a" stroke="#1a1a1a" stroke-width="0.2" >ALL</text>
<line x1="514.50" y1="28.68" x2="524.00" y2="28.68" stroke="#f2ee7a" stroke-width="1.5" />
<text x="525.50" y="30.58" font-size="5.8" text-anchor="start" font-weight="normal" fill="#1a1a1a" stroke="#1a1a1a" stroke-width="0.2" >CLL</text>
<line x1="514.50" y1="34.50" x2="524.00" y2="34.50" stroke="#f05656" stroke-width="1.5" />
<text x="525.50" y="36.40" font-size="5.8" text-anchor="start" font-weight="normal" fill="#1a1a1a" stroke="#1a1a1a" stroke-width="0.2" >Others</text>
<text x="462.00" y="110.30" font-size="9.4" text-anchor="middle" font-weight="bold" fill="#111" >AUC</text>
<text x="435.10" y="121.85" font-size="8.4" text-anchor="start" font-weight="normal" fill="#222" >AML</text>
<text x="466.50" y="121.85" font-size="8.4" text-anchor="start" font-weight="normal" fill="#222" >0.810</text>
<text x="435.10" y="132.81" font-size="8.4" text-anchor="start" font-weight="normal" fill="#222" >APML</text>
<text x="466.50" y="132.81" font-size="8.4" text-anchor="start" font-weight="normal" fill="#222" >0.789</text>
<text x="435.10" y="143.77" font-size="8.4" text-anchor="start" font-weight="normal" fill="#222" >CML</text>
<text x="466.50" y="143.77" font-size="8.4" text-anchor="start" font-weight="normal" fill="#222" >0.937</text>
<text x="435.10" y="154.73" font-size="8.4" text-anchor="start" font-weight="normal" fill="#222" >ALL</text>
<text x="466.50" y="154.73" font-size="8.4" text-anchor="start" font-weight="normal" fill="#222" >0.829</text>
<text x="435.10" y="165.69" font-size="8.4" text-anchor="start" font-weight="normal" fill="#222" >CLL</text>
<text x="466.50" y="165.69" font-size="8.4" text-anchor="start" font-weight="normal" fill="#222" >0.905</text>
<text x="435.10" y="176.65" font-size="8.4" text-anchor="start" font-weight="normal" fill="#222" >Others</text>
<text x="466.50" y="176.65" font-size="8.4" text-anchor="start" font-weight="normal" fill="#222" >0.805</text>
<rect x="35.3" y="222.8" width="206.3" height="189.8" fill="#efefef"/>
<line x1="32.00" y1="412.60" x2="35.30" y2="412.60" stroke="#555" stroke-width="1.0" />
<text x="31.80" y="414.50" font-size="5.4" text-anchor="end" font-weight="normal" fill="#2a2a2a" stroke="#2a2a2a" stroke-width="0.2" >0%</text>
<line x1="35.30" y1="412.60" x2="35.30" y2="415.60" stroke="#555" stroke-width="1.0" />
<text x="35.30" y="421.60" font-size="5.4" text-anchor="middle" font-weight="normal" fill="#2a2a2a" stroke="#2a2a2a" stroke-width="0.2" >0%</text>
<line x1="32.00" y1="393.62" x2="35.30" y2="393.62" stroke="#555" stroke-width="1.0" />
<text x="31.80" y="395.52" font-size="5.4" text-anchor="end" font-weight="normal" fill="#2a2a2a" stroke="#2a2a2a" stroke-width="0.2" >10%</text>
<line x1="55.93" y1="412.60" x2="55.93" y2="415.60" stroke="#555" stroke-width="1.0" />
<text x="55.93" y="421.60" font-size="5.4" text-anchor="middle" font-weight="normal" fill="#2a2a2a" stroke="#2a2a2a" stroke-width="0.2" >10%</text>
<line x1="32.00" y1="374.64" x2="35.30" y2="374.64" stroke="#555" stroke-width="1.0" />
<text x="31.80" y="376.54" font-size="5.4" text-anchor="end" font-weight="normal" fill="#2a2a2a" stroke="#2a2a2a" stroke-width="0.2" >20%</text>
<line x1="76.56" y1="412.60" x2="76.56" y2="415.60" stroke="#555" stroke-width="1.0" />
<text x="76.56" y="421.60" font-size="5.4" text-anchor="middle" font-weight="normal" fill="#2a2a2a" stroke="#2a2a2a" stroke-width="0.2" >20%</text>
<line x1="32.00" y1="355.66" x2="35.30" y2="355.66" stroke="#555" stroke-width="1.0" />
<text x="31.80" y="357.56" font-size="5.4" text-anchor="end" font-weight="normal" fill="#2a2a2a" stroke="#2a2a2a" stroke-width="0.2" >30%</text>
<line x1="97.19" y1="412.60" x2="97.19" y2="415.60" stroke="#555" stroke-width="1.0" />
<text x="97.19" y="421.60" font-size="5.4" text-anchor="middle" font-weight="normal" fill="#2a2a2a" stroke="#2a2a2a" stroke-width="0.2" >30%</text>
<line x1="32.00" y1="336.68" x2="35.30" y2="336.68" stroke="#555" stroke-width="1.0" />
<text x="31.80" y="338.58" font-size="5.4" text-anchor="end" font-weight="normal" fill="#2a2a2a" stroke="#2a2a2a" stroke-width="0.2" >40%</text>
<line x1="117.82" y1="412.60" x2="117.82" y2="415.60" stroke="#555" stroke-width="1.0" />
<text x="117.82" y="421.60" font-size="5.4" text-anchor="middle" font-weight="normal" fill="#2a2a2a" stroke="#2a2a2a" stroke-width="0.2" >40%</text>
<line x1="32.00" y1="317.70" x2="35.30" y2="317.70" stroke="#555" stroke-width="1.0" />
<text x="31.80" y="319.60" font-size="5.4" text-anchor="end" font-weight="normal" fill="#2a2a2a" stroke="#2a2a2a" stroke-width="0.2" >50%</text>
<line x1="138.45" y1="412.60" x2="138.45" y2="415.60" stroke="#555" stroke-width="1.0" />
<text x="138.45" y="421.60" font-size="5.4" text-anchor="middle" font-weight="normal" fill="#2a2a2a" stroke="#2a2a2a" stroke-width="0.2" >50%</text>
<line x1="32.00" y1="298.72" x2="35.30" y2="298.72" stroke="#555" stroke-width="1.0" />
<text x="31.80" y="300.62" font-size="5.4" text-anchor="end" font-weight="normal" fill="#2a2a2a" stroke="#2a2a2a" stroke-width="0.2" >60%</text>
<line x1="159.08" y1="412.60" x2="159.08" y2="415.60" stroke="#555" stroke-width="1.0" />
<text x="159.08" y="421.60" font-size="5.4" text-anchor="middle" font-weight="normal" fill="#2a2a2a" stroke="#2a2a2a" stroke-width="0.2" >60%</text>
<line x1="32.00" y1="279.74" x2="35.30" y2="279.74" stroke="#555" stroke-width="1.0" />
<text x="31.80" y="281.64" font-size="5.4" text-anchor="end" font-weight="normal" fill="#2a2a2a" stroke="#2a2a2a" stroke-width="0.2" >70%</text>
<line x1="179.71" y1="412.60" x2="179.71" y2="415.60" stroke="#555" stroke-width="1.0" />
<text x="179.71" y="421.60" font-size="5.4" text-anchor="middle" font-weight="normal" fill="#2a2a2a" stroke="#2a2a2a" stroke-width="0.2" >70%</text>
<line x1="32.00" y1="260.76" x2="35.30" y2="260.76" stroke="#555" stroke-width="1.0" />
<text x="31.80" y="262.66" font-size="5.4" text-anchor="end" font-weight="normal" fill="#2a2a2a" stroke="#2a2a2a" stroke-width="0.2" >80%</text>
<line x1="200.34" y1="412.60" x2="200.34" y2="415.60" stroke="#555" stroke-width="1.0" />
<text x="200.34" y="421.60" font-size="5.4" text-anchor="middle" font-weight="normal" fill="#2a2a2a" stroke="#2a2a2a" stroke-width="0.2" >80%</text>
<line x1="32.00" y1="241.78" x2="35.30" y2="241.78" stroke="#555" stroke-width="1.0" />
<text x="31.80" y="243.68" font-size="5.4" text-anchor="end" font-weight="normal" fill="#2a2a2a" stroke="#2a2a2a" stroke-width="0.2" >90%</text>
<line x1="220.97" y1="412.60" x2="220.97" y2="415.60" stroke="#555" stroke-width="1.0" />
<text x="220.97" y="421.60" font-size="5.4" text-anchor="middle" font-weight="normal" fill="#2a2a2a" stroke="#2a2a2a" stroke-width="0.2" >90%</text>
<line x1="32.00" y1="222.80" x2="35.30" y2="222.80" stroke="#555" stroke-width="1.0" />
<text x="31.80" y="224.70" font-size="5.4" text-anchor="end" font-weight="normal" fill="#2a2a2a" stroke="#2a2a2a" stroke-width="0.2" >100%</text>
<line x1="241.60" y1="412.60" x2="241.60" y2="415.60" stroke="#555" stroke-width="1.0" />
<text x="241.60" y="421.60" font-size="5.4" text-anchor="middle" font-weight="normal" fill="#2a2a2a" stroke="#2a2a2a" stroke-width="0.2" >100%</text>
<text x="138.70" y="432.50" font-size="7.6" text-anchor="middle" font-weight="bold" fill="#1a1a1a" stroke="#1a1a1a" stroke-width="0.2" >Percentage</text>
<text x="0" y="0" font-size="8.4" font-weight="bold" fill="#1a1a1a" stroke="#1a1a1a" stroke-width="0.2" text-anchor="middle" textLength="15.6" lengthAdjust="spacingAndGlyphs" transform="translate(11.6,317.6) rotate(-90)">Gain</text>
<line x1="35.30" y1="412.60" x2="241.60" y2="222.80" stroke="#4a4a4a" stroke-width="1.0" />
<polyline points="35.30,412.60 55.93,288.28 76.56,253.93 97.19,235.52 117.82,233.05 138.45,227.92 159.08,227.92 179.71,224.70 200.34,224.70 220.97,224.13 241.60,222.80" fill="none" stroke="#d8d0a8" stroke-width="1.1" stroke-linejoin="miter" />
<polyline points="35.30,412.60 55.93,290.18 76.56,261.52 97.19,245.20 117.82,239.12 138.45,238.74 159.08,232.48 179.71,229.44 200.34,226.41 220.97,225.65 241.60,222.80" fill="none" stroke="#f2ee80" stroke-width="1.1" stroke-linejoin="miter" />
<polyline points="35.30,412.60 55.93,367.05 76.56,314.85 97.19,281.64 117.82,253.36 138.45,227.92 159.08,227.92 179.71,227.92 200.34,227.55 220.97,223.75 241.60,222.80" fill="none" stroke="#2cc46c" stroke-width="1.1" stroke-linejoin="miter" />
<polyline points="35.30,412.60 55.93,366.10 76.56,326.24 97.19,300.81 117.82,271.20 138.45,247.85 159.08,235.52 179.71,230.39 200.34,227.55 220.97,223.75 241.60,222.80" fill="none" stroke="#5a7ccc" stroke-width="1.1" stroke-linejoin="miter" />
<polyline points="35.30,412.60 55.93,341.43 76.56,302.14 97.19,281.64 117.82,263.80 138.45,245.77 159.08,235.52 179.71,232.48 200.34,227.73 220.97,223.75 241.60,222.80" fill="none" stroke="#a462b4" stroke-width="1.1" stroke-linejoin="miter" />
<polyline points="35.30,412.60 55.93,356.61 76.56,314.85 97.19,284.11 117.82,271.77 138.45,258.67 159.08,253.55 179.71,246.15 200.34,234.57 220.97,223.75 241.60,222.80" fill="none" stroke="#f06262" stroke-width="1.1" stroke-linejoin="miter" />
<circle cx="35.30" cy="412.60" r="1.8" fill="#2a4ea8" stroke="#2a2a2a" stroke-width="0.6"/>
<circle cx="55.93" cy="366.10" r="1.8" fill="#2a4ea8" stroke="#2a2a2a" stroke-width="0.6"/>
<circle cx="76.56" cy="326.24" r="1.8" fill="#2a4ea8" stroke="#2a2a2a" stroke-width="0.6"/>
<circle cx="97.19" cy="300.81" r="1.8" fill="#2a4ea8" stroke="#2a2a2a" stroke-width="0.6"/>
<circle cx="117.82" cy="271.20" r="1.8" fill="#2a4ea8" stroke="#2a2a2a" stroke-width="0.6"/>
<circle cx="138.45" cy="247.85" r="1.8" fill="#2a4ea8" stroke="#2a2a2a" stroke-width="0.6"/>
<circle cx="159.08" cy="235.52" r="1.8" fill="#2a4ea8" stroke="#2a2a2a" stroke-width="0.6"/>
<circle cx="179.71" cy="230.39" r="1.8" fill="#2a4ea8" stroke="#2a2a2a" stroke-width="0.6"/>
<circle cx="200.34" cy="227.55" r="1.8" fill="#2a4ea8" stroke="#2a2a2a" stroke-width="0.6"/>
<circle cx="220.97" cy="223.75" r="1.8" fill="#2a4ea8" stroke="#2a2a2a" stroke-width="0.6"/>
<circle cx="241.60" cy="222.80" r="1.8" fill="#2a4ea8" stroke="#2a2a2a" stroke-width="0.6"/>
<circle cx="35.30" cy="412.60" r="1.8" fill="#139a36" stroke="#2a2a2a" stroke-width="0.6"/>
<circle cx="55.93" cy="367.05" r="1.8" fill="#139a36" stroke="#2a2a2a" stroke-width="0.6"/>
<circle cx="76.56" cy="314.85" r="1.8" fill="#139a36" stroke="#2a2a2a" stroke-width="0.6"/>
<circle cx="97.19" cy="281.64" r="1.8" fill="#139a36" stroke="#2a2a2a" stroke-width="0.6"/>
<circle cx="117.82" cy="253.36" r="1.8" fill="#139a36" stroke="#2a2a2a" stroke-width="0.6"/>
<circle cx="138.45" cy="227.92" r="1.8" fill="#139a36" stroke="#2a2a2a" stroke-width="0.6"/>
<circle cx="159.08" cy="227.92" r="1.8" fill="#139a36" stroke="#2a2a2a" stroke-width="0.6"/>
<circle cx="179.71" cy="227.92" r="1.8" fill="#139a36" stroke="#2a2a2a" stroke-width="0.6"/>
<circle cx="200.34" cy="227.55" r="1.8" fill="#139a36" stroke="#2a2a2a" stroke-width="0.6"/>
<circle cx="220.97" cy="223.75" r="1.8" fill="#139a36" stroke="#2a2a2a" stroke-width="0.6"/>
<circle cx="241.60" cy="222.80" r="1.8" fill="#139a36" stroke="#2a2a2a" stroke-width="0.6"/>
<circle cx="35.30" cy="412.60" r="1.8" fill="#c9c08e" stroke="#2a2a2a" stroke-width="0.6"/>
<circle cx="55.93" cy="288.28" r="1.8" fill="#c9c08e" stroke="#2a2a2a" stroke-width="0.6"/>
<circle cx="76.56" cy="253.93" r="1.8" fill="#c9c08e" stroke="#2a2a2a" stroke-width="0.6"/>
<circle cx="97.19" cy="235.52" r="1.8" fill="#c9c08e" stroke="#2a2a2a" stroke-width="0.6"/>
<circle cx="117.82" cy="233.05" r="1.8" fill="#c9c08e" stroke="#2a2a2a" stroke-width="0.6"/>
<circle cx="138.45" cy="227.92" r="1.8" fill="#c9c08e" stroke="#2a2a2a" stroke-width="0.6"/>
<circle cx="159.08" cy="227.92" r="1.8" fill="#c9c08e" stroke="#2a2a2a" stroke-width="0.6"/>
<circle cx="179.71" cy="224.70" r="1.8" fill="#c9c08e" stroke="#2a2a2a" stroke-width="0.6"/>
<circle cx="200.34" cy="224.70" r="1.8" fill="#c9c08e" stroke="#2a2a2a" stroke-width="0.6"/>
<circle cx="220.97" cy="224.13" r="1.8" fill="#c9c08e" stroke="#2a2a2a" stroke-width="0.6"/>
<circle cx="241.60" cy="222.80" r="1.8" fill="#c9c08e" stroke="#2a2a2a" stroke-width="0.6"/>
<circle cx="35.30" cy="412.60" r="1.8" fill="#7a1a7a" stroke="#2a2a2a" stroke-width="0.6"/>
<circle cx="55.93" cy="341.43" r="1.8" fill="#7a1a7a" stroke="#2a2a2a" stroke-width="0.6"/>
<circle cx="76.56" cy="302.14" r="1.8" fill="#7a1a7a" stroke="#2a2a2a" stroke-width="0.6"/>
<circle cx="97.19" cy="281.64" r="1.8" fill="#7a1a7a" stroke="#2a2a2a" stroke-width="0.6"/>
<circle cx="117.82" cy="263.80" r="1.8" fill="#7a1a7a" stroke="#2a2a2a" stroke-width="0.6"/>
<circle cx="138.45" cy="245.77" r="1.8" fill="#7a1a7a" stroke="#2a2a2a" stroke-width="0.6"/>
<circle cx="159.08" cy="235.52" r="1.8" fill="#7a1a7a" stroke="#2a2a2a" stroke-width="0.6"/>
<circle cx="179.71" cy="232.48" r="1.8" fill="#7a1a7a" stroke="#2a2a2a" stroke-width="0.6"/>
<circle cx="200.34" cy="227.73" r="1.8" fill="#7a1a7a" stroke="#2a2a2a" stroke-width="0.6"/>
<circle cx="220.97" cy="223.75" r="1.8" fill="#7a1a7a" stroke="#2a2a2a" stroke-width="0.6"/>
<circle cx="241.60" cy="222.80" r="1.8" fill="#7a1a7a" stroke="#2a2a2a" stroke-width="0.6"/>
<circle cx="35.30" cy="412.60" r="1.8" fill="#eee845" stroke="#2a2a2a" stroke-width="0.6"/>
<circle cx="55.93" cy="290.18" r="1.8" fill="#eee845" stroke="#2a2a2a" stroke-width="0.6"/>
<circle cx="76.56" cy="261.52" r="1.8" fill="#eee845" stroke="#2a2a2a" stroke-width="0.6"/>
<circle cx="97.19" cy="245.20" r="1.8" fill="#eee845" stroke="#2a2a2a" stroke-width="0.6"/>
<circle cx="117.82" cy="239.12" r="1.8" fill="#eee845" stroke="#2a2a2a" stroke-width="0.6"/>
<circle cx="138.45" cy="238.74" r="1.8" fill="#eee845" stroke="#2a2a2a" stroke-width="0.6"/>
<circle cx="159.08" cy="232.48" r="1.8" fill="#eee845" stroke="#2a2a2a" stroke-width="0.6"/>
<circle cx="179.71" cy="229.44" r="1.8" fill="#eee845" stroke="#2a2a2a" stroke-width="0.6"/>
<circle cx="200.34" cy="226.41" r="1.8" fill="#eee845" stroke="#2a2a2a" stroke-width="0.6"/>
<circle cx="220.97" cy="225.65" r="1.8" fill="#eee845" stroke="#2a2a2a" stroke-width="0.6"/>
<circle cx="241.60" cy="222.80" r="1.8" fill="#eee845" stroke="#2a2a2a" stroke-width="0.6"/>
<circle cx="35.30" cy="412.60" r="1.8" fill="#e02626" stroke="#2a2a2a" stroke-width="0.6"/>
<circle cx="55.93" cy="356.61" r="1.8" fill="#e02626" stroke="#2a2a2a" stroke-width="0.6"/>
<circle cx="76.56" cy="314.85" r="1.8" fill="#e02626" stroke="#2a2a2a" stroke-width="0.6"/>
<circle cx="97.19" cy="284.11" r="1.8" fill="#e02626" stroke="#2a2a2a" stroke-width="0.6"/>
<circle cx="117.82" cy="271.77" r="1.8" fill="#e02626" stroke="#2a2a2a" stroke-width="0.6"/>
<circle cx="138.45" cy="258.67" r="1.8" fill="#e02626" stroke="#2a2a2a" stroke-width="0.6"/>
<circle cx="159.08" cy="253.55" r="1.8" fill="#e02626" stroke="#2a2a2a" stroke-width="0.6"/>
<circle cx="179.71" cy="246.15" r="1.8" fill="#e02626" stroke="#2a2a2a" stroke-width="0.6"/>
<circle cx="200.34" cy="234.57" r="1.8" fill="#e02626" stroke="#2a2a2a" stroke-width="0.6"/>
<circle cx="220.97" cy="223.75" r="1.8" fill="#e02626" stroke="#2a2a2a" stroke-width="0.6"/>
<circle cx="241.60" cy="222.80" r="1.8" fill="#e02626" stroke="#2a2a2a" stroke-width="0.6"/>
<line x1="35.30" y1="222.80" x2="241.60" y2="222.80" stroke="#6a6a6a" stroke-width="1.2" />
<line x1="35.30" y1="222.20" x2="35.30" y2="412.60" stroke="#4a4a4a" stroke-width="1.3" />
<line x1="35.30" y1="412.60" x2="242.20" y2="412.60" stroke="#555" stroke-width="1.3" />
<line x1="241.60" y1="222.80" x2="241.60" y2="412.60" stroke="#909090" stroke-width="1.3" />
<circle cx="244.80" cy="221.30" r="2.4" fill="#2a4ea8" stroke="#2a2a2a" stroke-width="0.5"/>
<text x="248.90" y="223.30" font-size="5.9" text-anchor="start" font-weight="normal" fill="#1a1a1a" stroke="#1a1a1a" stroke-width="0.2" >AML</text>
<circle cx="244.80" cy="227.37" r="2.4" fill="#139a36" stroke="#2a2a2a" stroke-width="0.5"/>
<text x="248.90" y="229.37" font-size="5.9" text-anchor="start" font-weight="normal" fill="#1a1a1a" stroke="#1a1a1a" stroke-width="0.2" >APML</text>
<circle cx="244.80" cy="233.44" r="2.4" fill="#c9c08e" stroke="#2a2a2a" stroke-width="0.5"/>
<text x="248.90" y="235.44" font-size="5.9" text-anchor="start" font-weight="normal" fill="#1a1a1a" stroke="#1a1a1a" stroke-width="0.2" >CML</text>
<circle cx="244.80" cy="239.51" r="2.4" fill="#7a1a7a" stroke="#2a2a2a" stroke-width="0.5"/>
<text x="248.90" y="241.51" font-size="5.9" text-anchor="start" font-weight="normal" fill="#1a1a1a" stroke="#1a1a1a" stroke-width="0.2" >ALL</text>
<circle cx="244.80" cy="245.58" r="2.4" fill="#eee845" stroke="#2a2a2a" stroke-width="0.5"/>
<text x="248.90" y="247.58" font-size="5.9" text-anchor="start" font-weight="normal" fill="#1a1a1a" stroke="#1a1a1a" stroke-width="0.2" >CLL</text>
<circle cx="244.80" cy="251.65" r="2.4" fill="#e02626" stroke="#2a2a2a" stroke-width="0.5"/>
<text x="248.90" y="253.65" font-size="5.9" text-anchor="start" font-weight="normal" fill="#1a1a1a" stroke="#1a1a1a" stroke-width="0.2" >Others</text>
<rect x="306.2" y="220.6" width="210.7" height="191.70000000000002" fill="#efefef"/>
<line x1="303.00" y1="412.30" x2="306.20" y2="412.30" stroke="#555" stroke-width="1.0" />
<text x="302.60" y="414.20" font-size="5.4" text-anchor="end" font-weight="normal" fill="#2a2a2a" stroke="#2a2a2a" stroke-width="0.2" >1.0</text>
<line x1="303.00" y1="381.15" x2="306.20" y2="381.15" stroke="#555" stroke-width="1.0" />
<text x="302.60" y="383.05" font-size="5.4" text-anchor="end" font-weight="normal" fill="#2a2a2a" stroke="#2a2a2a" stroke-width="0.2" >2.0</text>
<line x1="303.00" y1="350.00" x2="306.20" y2="350.00" stroke="#555" stroke-width="1.0" />
<text x="302.60" y="351.90" font-size="5.4" text-anchor="end" font-weight="normal" fill="#2a2a2a" stroke="#2a2a2a" stroke-width="0.2" >3.0</text>
<line x1="303.00" y1="318.85" x2="306.20" y2="318.85" stroke="#555" stroke-width="1.0" />
<text x="302.60" y="320.75" font-size="5.4" text-anchor="end" font-weight="normal" fill="#2a2a2a" stroke="#2a2a2a" stroke-width="0.2" >4.0</text>
<line x1="303.00" y1="287.70" x2="306.20" y2="287.70" stroke="#555" stroke-width="1.0" />
<text x="302.60" y="289.60" font-size="5.4" text-anchor="end" font-weight="normal" fill="#2a2a2a" stroke="#2a2a2a" stroke-width="0.2" >5.0</text>
<line x1="303.00" y1="256.55" x2="306.20" y2="256.55" stroke="#555" stroke-width="1.0" />
<text x="302.60" y="258.45" font-size="5.4" text-anchor="end" font-weight="normal" fill="#2a2a2a" stroke="#2a2a2a" stroke-width="0.2" >6.0</text>
<line x1="303.00" y1="225.40" x2="306.20" y2="225.40" stroke="#555" stroke-width="1.0" />
<text x="302.60" y="227.30" font-size="5.4" text-anchor="end" font-weight="normal" fill="#2a2a2a" stroke="#2a2a2a" stroke-width="0.2" >7.0</text>
<line x1="306.20" y1="412.30" x2="306.20" y2="415.30" stroke="#555" stroke-width="1.0" />
<text x="306.20" y="421.20" font-size="5.4" text-anchor="middle" font-weight="normal" fill="#2a2a2a" stroke="#2a2a2a" stroke-width="0.2" >0%</text>
<line x1="327.27" y1="412.30" x2="327.27" y2="415.30" stroke="#555" stroke-width="1.0" />
<text x="327.27" y="421.20" font-size="5.4" text-anchor="middle" font-weight="normal" fill="#2a2a2a" stroke="#2a2a2a" stroke-width="0.2" >10%</text>
<line x1="348.34" y1="412.30" x2="348.34" y2="415.30" stroke="#555" stroke-width="1.0" />
<text x="348.34" y="421.20" font-size="5.4" text-anchor="middle" font-weight="normal" fill="#2a2a2a" stroke="#2a2a2a" stroke-width="0.2" >20%</text>
<line x1="369.41" y1="412.30" x2="369.41" y2="415.30" stroke="#555" stroke-width="1.0" />
<text x="369.41" y="421.20" font-size="5.4" text-anchor="middle" font-weight="normal" fill="#2a2a2a" stroke="#2a2a2a" stroke-width="0.2" >30%</text>
<line x1="390.48" y1="412.30" x2="390.48" y2="415.30" stroke="#555" stroke-width="1.0" />
<text x="390.48" y="421.20" font-size="5.4" text-anchor="middle" font-weight="normal" fill="#2a2a2a" stroke="#2a2a2a" stroke-width="0.2" >40%</text>
<line x1="411.55" y1="412.30" x2="411.55" y2="415.30" stroke="#555" stroke-width="1.0" />
<text x="411.55" y="421.20" font-size="5.4" text-anchor="middle" font-weight="normal" fill="#2a2a2a" stroke="#2a2a2a" stroke-width="0.2" >50%</text>
<line x1="432.62" y1="412.30" x2="432.62" y2="415.30" stroke="#555" stroke-width="1.0" />
<text x="432.62" y="421.20" font-size="5.4" text-anchor="middle" font-weight="normal" fill="#2a2a2a" stroke="#2a2a2a" stroke-width="0.2" >60%</text>
<line x1="453.69" y1="412.30" x2="453.69" y2="415.30" stroke="#555" stroke-width="1.0" />
<text x="453.69" y="421.20" font-size="5.4" text-anchor="middle" font-weight="normal" fill="#2a2a2a" stroke="#2a2a2a" stroke-width="0.2" >70%</text>
<line x1="474.76" y1="412.30" x2="474.76" y2="415.30" stroke="#555" stroke-width="1.0" />
<text x="474.76" y="421.20" font-size="5.4" text-anchor="middle" font-weight="normal" fill="#2a2a2a" stroke="#2a2a2a" stroke-width="0.2" >80%</text>
<line x1="495.83" y1="412.30" x2="495.83" y2="415.30" stroke="#555" stroke-width="1.0" />
<text x="495.83" y="421.20" font-size="5.4" text-anchor="middle" font-weight="normal" fill="#2a2a2a" stroke="#2a2a2a" stroke-width="0.2" >90%</text>
<line x1="516.90" y1="412.30" x2="516.90" y2="415.30" stroke="#555" stroke-width="1.0" />
<text x="516.90" y="421.20" font-size="5.4" text-anchor="middle" font-weight="normal" fill="#2a2a2a" stroke="#2a2a2a" stroke-width="0.2" >100%</text>
<text x="411.80" y="431.60" font-size="7.6" text-anchor="middle" font-weight="bold" fill="#1a1a1a" stroke="#1a1a1a" stroke-width="0.2" >Percentage</text>
<text x="0" y="0" font-size="8.4" font-weight="bold" fill="#1a1a1a" stroke="#1a1a1a" stroke-width="0.2" text-anchor="middle" textLength="11.4" lengthAdjust="spacingAndGlyphs" transform="translate(288.3,316.5) rotate(-90)">Lift</text>
<polyline points="327.27,239.42 348.34,313.24 369.41,346.57 390.48,369.62 411.55,382.71 432.62,392.99 453.69,399.84 474.76,405.14 495.83,409.19 516.90,412.30" fill="none" stroke="#d8d0a8" stroke-width="1.1" stroke-linejoin="miter" />
<polyline points="327.27,242.53 348.34,318.85 369.41,351.56 390.48,371.81 411.55,386.45 432.62,394.23 453.69,400.46 474.76,405.45 495.83,409.19 516.90,412.30" fill="none" stroke="#f2ee80" stroke-width="1.1" stroke-linejoin="miter" />
<polyline points="327.27,367.76 348.34,362.77 369.41,372.43 390.48,378.35 411.55,382.71 432.62,392.99 453.69,400.46 474.76,405.45 495.83,409.19 516.90,412.30" fill="none" stroke="#2cc46c" stroke-width="1.1" stroke-linejoin="miter" />
<polyline points="327.27,369.00 348.34,372.74 369.41,382.40 390.48,385.20 411.55,388.63 432.62,395.17 453.69,400.77 474.76,406.07 495.83,409.19 516.90,412.30" fill="none" stroke="#5a7ccc" stroke-width="1.1" stroke-linejoin="miter" />
<polyline points="327.27,326.64 348.34,352.49 369.41,372.43 390.48,382.71 411.55,388.63 432.62,395.17 453.69,401.09 474.76,406.07 495.83,409.19 516.90,412.30" fill="none" stroke="#a462b4" stroke-width="1.1" stroke-linejoin="miter" />
<polyline points="327.27,352.18 348.34,362.77 369.41,372.74 390.48,385.82 411.55,392.99 432.62,399.84 453.69,404.51 474.76,406.69 495.83,409.19 516.90,412.30" fill="none" stroke="#f06262" stroke-width="1.1" stroke-linejoin="miter" />
<circle cx="327.27" cy="369.00" r="1.8" fill="#2a4ea8" stroke="#2a2a2a" stroke-width="0.6"/>
<circle cx="348.34" cy="372.74" r="1.8" fill="#2a4ea8" stroke="#2a2a2a" stroke-width="0.6"/>
<circle cx="369.41" cy="382.40" r="1.8" fill="#2a4ea8" stroke="#2a2a2a" stroke-width="0.6"/>
<circle cx="390.48" cy="385.20" r="1.8" fill="#2a4ea8" stroke="#2a2a2a" stroke-width="0.6"/>
<circle cx="411.55" cy="388.63" r="1.8" fill="#2a4ea8" stroke="#2a2a2a" stroke-width="0.6"/>
<circle cx="432.62" cy="395.17" r="1.8" fill="#2a4ea8" stroke="#2a2a2a" stroke-width="0.6"/>
<circle cx="453.69" cy="400.77" r="1.8" fill="#2a4ea8" stroke="#2a2a2a" stroke-width="0.6"/>
<circle cx="474.76" cy="406.07" r="1.8" fill="#2a4ea8" stroke="#2a2a2a" stroke-width="0.6"/>
<circle cx="495.83" cy="409.19" r="1.8" fill="#2a4ea8" stroke="#2a2a2a" stroke-width="0.6"/>
<circle cx="516.90" cy="412.30" r="1.8" fill="#2a4ea8" stroke="#2a2a2a" stroke-width="0.6"/>
<circle cx="327.27" cy="367.76" r="1.8" fill="#139a36" stroke="#2a2a2a" stroke-width="0.6"/>
<circle cx="348.34" cy="362.77" r="1.8" fill="#139a36" stroke="#2a2a2a" stroke-width="0.6"/>
<circle cx="369.41" cy="372.43" r="1.8" fill="#139a36" stroke="#2a2a2a" stroke-width="0.6"/>
<circle cx="390.48" cy="378.35" r="1.8" fill="#139a36" stroke="#2a2a2a" stroke-width="0.6"/>
<circle cx="411.55" cy="382.71" r="1.8" fill="#139a36" stroke="#2a2a2a" stroke-width="0.6"/>
<circle cx="432.62" cy="392.99" r="1.8" fill="#139a36" stroke="#2a2a2a" stroke-width="0.6"/>
<circle cx="453.69" cy="400.46" r="1.8" fill="#139a36" stroke="#2a2a2a" stroke-width="0.6"/>
<circle cx="474.76" cy="405.45" r="1.8" fill="#139a36" stroke="#2a2a2a" stroke-width="0.6"/>
<circle cx="495.83" cy="409.19" r="1.8" fill="#139a36" stroke="#2a2a2a" stroke-width="0.6"/>
<circle cx="516.90" cy="412.30" r="1.8" fill="#139a36" stroke="#2a2a2a" stroke-width="0.6"/>
<circle cx="327.27" cy="239.42" r="1.8" fill="#c9c08e" stroke="#2a2a2a" stroke-width="0.6"/>
<circle cx="348.34" cy="313.24" r="1.8" fill="#c9c08e" stroke="#2a2a2a" stroke-width="0.6"/>
<circle cx="369.41" cy="346.57" r="1.8" fill="#c9c08e" stroke="#2a2a2a" stroke-width="0.6"/>
<circle cx="390.48" cy="369.62" r="1.8" fill="#c9c08e" stroke="#2a2a2a" stroke-width="0.6"/>
<circle cx="411.55" cy="382.71" r="1.8" fill="#c9c08e" stroke="#2a2a2a" stroke-width="0.6"/>
<circle cx="432.62" cy="392.99" r="1.8" fill="#c9c08e" stroke="#2a2a2a" stroke-width="0.6"/>
<circle cx="453.69" cy="399.84" r="1.8" fill="#c9c08e" stroke="#2a2a2a" stroke-width="0.6"/>
<circle cx="474.76" cy="405.14" r="1.8" fill="#c9c08e" stroke="#2a2a2a" stroke-width="0.6"/>
<circle cx="495.83" cy="409.19" r="1.8" fill="#c9c08e" stroke="#2a2a2a" stroke-width="0.6"/>
<circle cx="516.90" cy="412.30" r="1.8" fill="#c9c08e" stroke="#2a2a2a" stroke-width="0.6"/>
<circle cx="327.27" cy="326.64" r="1.8" fill="#7a1a7a" stroke="#2a2a2a" stroke-width="0.6"/>
<circle cx="348.34" cy="352.49" r="1.8" fill="#7a1a7a" stroke="#2a2a2a" stroke-width="0.6"/>
<circle cx="369.41" cy="372.43" r="1.8" fill="#7a1a7a" stroke="#2a2a2a" stroke-width="0.6"/>
<circle cx="390.48" cy="382.71" r="1.8" fill="#7a1a7a" stroke="#2a2a2a" stroke-width="0.6"/>
<circle cx="411.55" cy="388.63" r="1.8" fill="#7a1a7a" stroke="#2a2a2a" stroke-width="0.6"/>
<circle cx="432.62" cy="395.17" r="1.8" fill="#7a1a7a" stroke="#2a2a2a" stroke-width="0.6"/>
<circle cx="453.69" cy="401.09" r="1.8" fill="#7a1a7a" stroke="#2a2a2a" stroke-width="0.6"/>
<circle cx="474.76" cy="406.07" r="1.8" fill="#7a1a7a" stroke="#2a2a2a" stroke-width="0.6"/>
<circle cx="495.83" cy="409.19" r="1.8" fill="#7a1a7a" stroke="#2a2a2a" stroke-width="0.6"/>
<circle cx="516.90" cy="412.30" r="1.8" fill="#7a1a7a" stroke="#2a2a2a" stroke-width="0.6"/>
<circle cx="327.27" cy="242.53" r="1.8" fill="#eee845" stroke="#2a2a2a" stroke-width="0.6"/>
<circle cx="348.34" cy="318.85" r="1.8" fill="#eee845" stroke="#2a2a2a" stroke-width="0.6"/>
<circle cx="369.41" cy="351.56" r="1.8" fill="#eee845" stroke="#2a2a2a" stroke-width="0.6"/>
<circle cx="390.48" cy="371.81" r="1.8" fill="#eee845" stroke="#2a2a2a" stroke-width="0.6"/>
<circle cx="411.55" cy="386.45" r="1.8" fill="#eee845" stroke="#2a2a2a" stroke-width="0.6"/>
<circle cx="432.62" cy="394.23" r="1.8" fill="#eee845" stroke="#2a2a2a" stroke-width="0.6"/>
<circle cx="453.69" cy="400.46" r="1.8" fill="#eee845" stroke="#2a2a2a" stroke-width="0.6"/>
<circle cx="474.76" cy="405.45" r="1.8" fill="#eee845" stroke="#2a2a2a" stroke-width="0.6"/>
<circle cx="495.83" cy="409.19" r="1.8" fill="#eee845" stroke="#2a2a2a" stroke-width="0.6"/>
<circle cx="516.90" cy="412.30" r="1.8" fill="#eee845" stroke="#2a2a2a" stroke-width="0.6"/>
<circle cx="327.27" cy="352.18" r="1.8" fill="#e02626" stroke="#2a2a2a" stroke-width="0.6"/>
<circle cx="348.34" cy="362.77" r="1.8" fill="#e02626" stroke="#2a2a2a" stroke-width="0.6"/>
<circle cx="369.41" cy="372.74" r="1.8" fill="#e02626" stroke="#2a2a2a" stroke-width="0.6"/>
<circle cx="390.48" cy="385.82" r="1.8" fill="#e02626" stroke="#2a2a2a" stroke-width="0.6"/>
<circle cx="411.55" cy="392.99" r="1.8" fill="#e02626" stroke="#2a2a2a" stroke-width="0.6"/>
<circle cx="432.62" cy="399.84" r="1.8" fill="#e02626" stroke="#2a2a2a" stroke-width="0.6"/>
<circle cx="453.69" cy="404.51" r="1.8" fill="#e02626" stroke="#2a2a2a" stroke-width="0.6"/>
<circle cx="474.76" cy="406.69" r="1.8" fill="#e02626" stroke="#2a2a2a" stroke-width="0.6"/>
<circle cx="495.83" cy="409.19" r="1.8" fill="#e02626" stroke="#2a2a2a" stroke-width="0.6"/>
<circle cx="516.90" cy="412.30" r="1.8" fill="#e02626" stroke="#2a2a2a" stroke-width="0.6"/>
<line x1="306.20" y1="220.60" x2="516.90" y2="220.60" stroke="#6a6a6a" stroke-width="1.2" />
<line x1="306.20" y1="220.00" x2="306.20" y2="412.30" stroke="#9a9a9a" stroke-width="1.5" />
<line x1="306.20" y1="412.30" x2="517.50" y2="412.30" stroke="#555" stroke-width="1.3" />
<line x1="516.90" y1="220.60" x2="516.90" y2="412.30" stroke="#707070" stroke-width="1.3" />
<circle cx="520.90" cy="223.40" r="2.4" fill="#2a4ea8" stroke="#2a2a2a" stroke-width="0.5"/>
<text x="525.30" y="225.40" font-size="5.9" text-anchor="start" font-weight="normal" fill="#1a1a1a" stroke="#1a1a1a" stroke-width="0.2" >AML</text>
<circle cx="520.90" cy="229.28" r="2.4" fill="#139a36" stroke="#2a2a2a" stroke-width="0.5"/>
<text x="525.30" y="231.28" font-size="5.9" text-anchor="start" font-weight="normal" fill="#1a1a1a" stroke="#1a1a1a" stroke-width="0.2" >APML</text>
<circle cx="520.90" cy="235.16" r="2.4" fill="#c9c08e" stroke="#2a2a2a" stroke-width="0.5"/>
<text x="525.30" y="237.16" font-size="5.9" text-anchor="start" font-weight="normal" fill="#1a1a1a" stroke="#1a1a1a" stroke-width="0.2" >CML</text>
<circle cx="520.90" cy="241.04" r="2.4" fill="#7a1a7a" stroke="#2a2a2a" stroke-width="0.5"/>
<text x="525.30" y="243.04" font-size="5.9" text-anchor="start" font-weight="normal" fill="#1a1a1a" stroke="#1a1a1a" stroke-width="0.2" >ALL</text>
<circle cx="520.90" cy="246.92" r="2.4" fill="#eee845" stroke="#2a2a2a" stroke-width="0.5"/>
<text x="525.30" y="248.92" font-size="5.9" text-anchor="start" font-weight="normal" fill="#1a1a1a" stroke="#1a1a1a" stroke-width="0.2" >CLL</text>
<circle cx="520.90" cy="252.80" r="2.4" fill="#e02626" stroke="#2a2a2a" stroke-width="0.5"/>
<text x="525.30" y="254.80" font-size="5.9" text-anchor="start" font-weight="normal" fill="#1a1a1a" stroke="#1a1a1a" stroke-width="0.2" >Others</text>
</svg></body></html>
